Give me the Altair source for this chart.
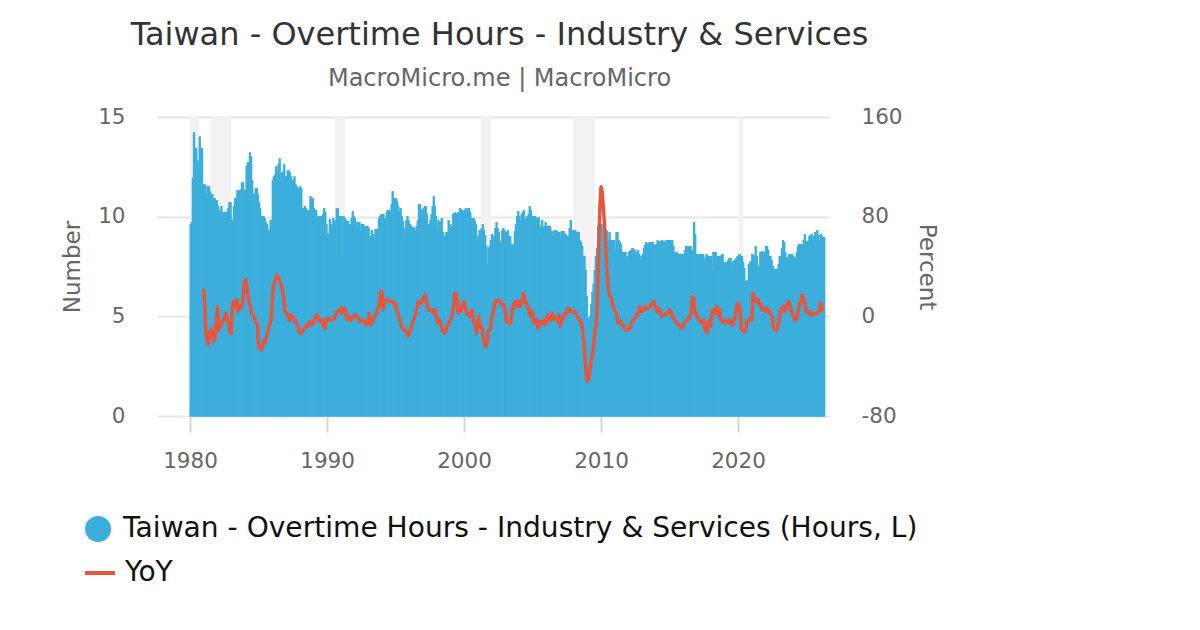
import altair as alt
import pandas as pd

BAR_NAME = "Taiwan - Overtime Hours - Industry & Services (Hours, L)"
LINE_NAME = "YoY"
BLUE = "#3caedb"
RED = "#e8553d"
FONT = "DejaVu Sans"

# Monthly overtime hours, January 1980 onwards (one row per year)
hours_1980s = [
    9.6, 9.7, 11.9, 14.2, 13.4, 13.4, 12.8, 12.7, 14.0, 13.4, 13.4, 11.6,
    11.6, 11.55, 11.1, 11.5, 11.5, 11.25, 11.1, 11.1, 10.9, 10.9, 10.8, 10.8,
    10.5, 10.3, 10.1, 10.5, 10.2, 10.2, 10.2, 10.2, 10.2, 10.4, 10.7, 10.7,
    9.8, 9.8, 10.5, 10.9, 10.9, 11.3, 11.3, 11.3, 11.3, 11.7, 11.7, 11.3,
    11.3, 12.5, 12.7, 12.7, 13.2, 13.0, 11.8, 11.1, 11.1, 11.4, 11.4, 11.1,
    10.7, 10.4, 10.0, 10.0, 10.0, 9.9, 9.7, 9.6, 9.3, 9.3, 9.8, 9.8,
    11.8, 12.0, 12.1, 12.5, 12.2, 12.6, 12.9, 11.8, 12.2, 12.2, 12.6, 12.0,
    12.0, 12.3, 12.3, 12.2, 12.0, 11.8, 11.8, 12.0, 11.6, 11.5, 11.4, 11.4,
    11.5, 11.4, 10.4, 10.4, 10.5, 10.4, 10.3, 10.3, 10.3, 11.0, 10.9, 10.9,
    10.4, 10.3, 10.3, 9.9, 10.0, 10.0, 10.0, 10.0, 10.1, 10.4, 10.2, 9.6,
]
hours_1990s = [
    9.1, 9.1, 9.85, 9.6, 9.3, 9.9, 9.8, 9.75, 10.4, 10.4, 10.0, 10.0,
    10.0, 8.0, 10.0, 9.9, 9.8, 9.75, 9.75, 9.6, 9.6, 9.9, 10.25, 10.0,
    9.9, 9.4, 9.7, 9.7, 9.7, 9.25, 9.6, 9.6, 9.5, 9.5, 9.5, 9.5,
    9.4, 9.0, 8.75, 9.3, 9.1, 8.9, 9.35, 9.35, 9.35, 9.9, 10.0, 10.1,
    10.1, 10.1, 9.9, 9.75, 10.25, 10.3, 10.3, 10.2, 10.6, 11.25, 10.9, 10.8,
    10.9, 10.75, 10.5, 10.25, 10.4, 10.0, 9.75, 9.0, 9.4, 9.8, 10.0, 9.8,
    9.6, 9.5, 9.45, 9.45, 9.4, 9.25, 9.5, 9.75, 10.6, 10.6, 10.3, 10.3,
    10.4, 10.5, 10.5, 10.1, 9.5, 9.6, 9.8, 10.1, 10.5, 11.0, 10.5, 10.0,
    9.3, 9.8, 9.75, 9.7, 9.9, 9.2, 8.6, 9.0, 9.2, 9.2, 9.8, 9.6,
    9.5, 9.5, 10.1, 10.15, 10.2, 10.1, 10.15, 10.2, 10.4, 10.35, 10.3, 10.25,
]
hours_2000s = [
    10.3, 10.4, 10.2, 10.4, 10.4, 10.2, 9.9, 9.9, 9.9, 9.75, 9.6, 8.8,
    9.0, 9.3, 9.3, 9.4, 9.6, 9.3, 9.0, 8.5, 7.6, 8.4, 8.5, 8.8,
    9.1, 8.8, 9.0, 9.4, 9.7, 9.4, 9.2, 8.7, 8.7, 9.3, 9.4, 9.3,
    9.2, 9.0, 9.3, 9.0, 9.0, 8.6, 8.6, 8.6, 9.25, 9.6, 10.0, 10.25,
    10.0, 9.75, 10.1, 10.2, 10.3, 9.8, 9.9, 10.0, 10.1, 10.5, 10.3, 10.0,
    10.0, 10.0, 10.0, 9.9, 9.9, 9.95, 9.1, 9.5, 9.8, 9.4, 9.5, 9.7,
    9.5, 9.5, 9.5, 9.5, 9.25, 9.25, 9.0, 9.3, 9.3, 9.25, 9.2, 9.2,
    9.0, 9.25, 9.25, 9.25, 9.1, 9.05, 9.0, 9.0, 9.4, 9.8, 9.3, 9.3,
    9.2, 9.3, 9.2, 9.2, 9.2, 8.8, 8.7, 8.5, 8.0, 8.0, 7.3, 6.0,
    4.9, 4.3, 5.0, 5.6, 6.2, 6.6, 7.3, 8.0, 8.4, 9.5, 9.8, 9.6,
]
hours_2010s = [
    9.6, 8.6, 9.3, 9.3, 9.3, 9.25, 8.8, 9.2, 8.8, 8.8, 8.8, 8.8,
    8.25, 9.2, 9.2, 8.8, 8.7, 8.6, 8.2, 8.2, 8.2, 8.2, 7.8, 8.0,
    8.2, 8.25, 8.3, 8.4, 8.35, 8.3, 8.1, 8.2, 8.3, 8.1, 7.8, 8.0,
    8.1, 8.4, 8.55, 8.7, 8.6, 8.65, 8.7, 8.7, 8.7, 8.7, 8.5, 8.55,
    8.6, 8.8, 8.75, 8.75, 8.6, 8.8, 8.75, 8.7, 8.75, 8.8, 8.8, 8.8,
    8.8, 8.8, 8.8, 8.5, 8.2, 8.1, 8.2, 8.1, 8.1, 8.1, 8.1, 8.1,
    8.1, 8.3, 8.5, 8.5, 8.5, 8.5, 8.5, 8.3, 8.3, 9.7, 9.1, 8.1,
    8.1, 8.1, 8.1, 8.1, 8.1, 8.1, 7.8, 7.95, 8.1, 8.0, 8.0, 7.95,
    8.0, 7.3, 8.2, 8.2, 8.2, 8.0, 8.0, 8.0, 8.0, 8.05, 8.1, 7.7,
    7.7, 7.7, 7.7, 7.8, 7.9, 7.9, 7.7, 7.5, 7.8, 7.8, 7.9, 8.0,
]
hours_2020s = [
    8.05, 8.1, 8.0, 8.0, 7.7, 7.4, 6.7, 6.75, 6.8, 7.6, 7.7, 7.75,
    8.1, 8.05, 8.0, 8.5, 8.0, 7.5, 7.5, 8.2, 8.2, 8.25, 8.0, 8.2,
    8.5, 8.5, 8.3, 8.0, 8.0, 7.8, 7.5, 7.35, 7.35, 7.35, 7.35, 7.6,
    8.0, 8.0, 8.4, 8.8, 8.7, 8.2, 7.9, 7.9, 8.1, 8.1, 8.1, 8.1,
    8.0, 7.9, 7.9, 8.2, 8.5, 8.6, 8.6, 8.6, 8.5, 8.8, 9.1, 8.75,
    8.75, 8.75, 9.0, 9.05, 9.1, 8.8, 9.0, 9.2, 8.8, 9.3, 9.05, 8.8,
    9.1, 9.0, 8.95, 8.95,
]

# Year-on-year change in percent, January 1981 onwards
yoy_1980s = [
    21.8, 5, -13.6, -19, -23, -14, -12, -10, -16, -20, -18, -3,
    7.8, -10.9, -8, -8, -5, -3, -3, 2.5, 0, -3, -5, -13.6,
    -13.6, 6.5, 11.9, 11.9, 7.8, 13.2, 3.8, 5, 7.8, 7.8, 10, 20,
    29, 29, 22, 16, 10.5, 8, 2, 1, 0, -2.9, -5.5, -6,
    -24, -25, -26, -27, -22, -19, -21, -16, -12, -9.6, -5, -3,
    13.2, 25.2, 26.6, 30, 33.3, 32, 30, 28, 25, 20, 15.9, 5,
    2.5, 2.5, 0, -3, -3, 1, 0, -3, -3, -5, -7, -9.6,
    -13.6, -13.6, -13, -11, -10, -9.6, -7, -7, -8, -4.2, -6, -6,
    -6, -2, -0.2, 1.2, 0, -3, -4.2, -3, -3, -8, -9.6, -5,
]
yoy_1990s = [
    -1.5, -1.5, -2, -3, -3, -3, -2, -0.2, 2, 3.8, 3.8, 5,
    6.5, 2.5, 6.5, 6.5, 5.2, -1, -3, 0, -1.5, -3, -1.5, 0,
    0, 1.2, 0, -1, -3, -4.2, -3.5, -3, -4.2, -5, -6.8, -6,
    -3, 2.5, -6.8, -6, -4.2, -1.5, 0, 1.2, 5.2, 7.8, 10, 19.9,
    19.9, 5, 10, 13, 13, 13, 13, 12, 12, 11.9, 11, 9.2,
    10.5, 5.2, 2.5, -1, -3, -8, -9, -10.9, -10.9, -11.5, -13.6, -16,
    -13, -10.9, -7, -5, -3, 0, 3, 7.8, 11.9, 11.9, 10.5, 11.9,
    13, 15.9, 17.2, 12, 7.8, 5.2, 5.2, 5.2, 5.2, 2.5, 2.5, 5.2,
    -1.5, -5.5, -5.5, -3, -8, -10.9, -12.3, -13.6, -12, -8, -8, -5,
    -3, 0, 3, 7.8, 18.6, 18.6, 14, 2.5, 3.8, 3.8, 7.8, 10,
]
yoy_2000s = [
    11.9, 7.8, 2.5, 2.5, 1.2, 0, 2.5, 5.2, -3, -5, -8, -13.6,
    -5, 0, -8, -8, -10.9, -18, -21.6, -24.3, -22, -12, -10.9, -10.9,
    -3, 1, 5.2, 10.5, 12, 13.2, 13.2, 12, 11.9, 9.2, 9.2, 9.2,
    5.2, -4.2, -4.2, -5.5, -5.5, -5.5, 5.2, 7.8, 10, 11.9, 7.8, 11.9,
    11.9, 7.8, 10, 11.9, 18.6, 15, 11.9, 9.2, 7.8, 4, 0, 3.8,
    3.8, -5.5, -3, -3, -3, -9.6, -7, -4.2, -5.5, -4, -3, -7,
    -3, 1.2, -3, -3, -3, 2.5, 0.5, -1.5, -3, -3, -3, 1.2,
    -8, -5, -3, 0, 1.2, 1.2, 3.8, 6.5, 6.5, 3.8, 3.8, 3.8,
    3.8, 3.8, 2.5, 0, -1.5, -3, -3, -6, -12, -22, -35, -46,
    -52, -51, -45, -38, -33, -28, -19, -10, -5, 20, 59, 88,
]
yoy_2010s = [
    104, 100, 88, 75, 58, 40, 25, 19, 16, 14, 10, 7,
    5, 3, 0, -5.5, -4, -4.2, -6.8, -7, -8, -9.6, -11, -11,
    -11, -10, -8, -4.2, -3, -3, -1.5, 1.2, 1.2, 3.8, 7.8, 3.8,
    3.8, 5.2, 5.2, 7.8, 6.5, 6.5, 6.5, 7.8, 10.5, 10.5, 11.9, 9,
    7.8, 3.8, 6.5, 6.5, 2.5, 0, 0.5, 1.2, 1.2, 2.5, 2.5, 2.5,
    5.2, 4, 2.5, -1.5, -2, -3, -5.5, -6, -7, -8, -9, -9.6,
    -7, -5.5, -4.2, -3, -3, -1.5, 0, 2, 15.9, 14.5, 5.2, 2.5,
    0, -1.5, -3, -3, -5.5, -4, -3, -11, -12, -13, -4, -6,
    -8, 3.8, 5.2, 2.5, 2.5, 7.8, 4, 1, 5.2, -3, -3, -5.5,
    -4, -3, -4.2, -4.2, -5.5, -3, -5, -7, -3, -3, 2.5, 9.2,
]
yoy_2020s = [
    10.5, 8, 2.5, -9.6, -11, -12.3, -12.3, -9, -3, -4.2, -3, -1.5,
    -3, 18.6, 16, 14.5, 11.9, 12.5, 13.2, 9.2, 9.2, 5.2, 6.5, 5,
    3.8, 6.5, 5.2, 5.2, 2.5, 1, 0, -9.6, -10, -11, -11, -7,
    -3, 2.5, 6.5, 6.5, 7.8, 3.8, 6.5, 9.2, 11.9, 10, 7.8, 3.8,
    0, 0, -3, -3, 1.2, 6.5, 9, 11.9, 17.2, 15, 13.2, 7.8,
    3.8, 3.8, 2.5, 3.8, 1.2, 1.2, 2.5, 2.5, 2.5, 2.5, 2.5, 3.8,
    10.5, 8, 5.2, 5.2,
]

# Shaded recession periods
recession_start = ["1980-01-01", "1981-07-13", "1990-08-01", "2001-03-28", "2007-12-24", "2020-01-26"]
recession_end = ["1980-08-28", "1983-01-01", "1991-04-22", "2001-12-20", "2009-07-22", "2020-05-22"]

tick_years = [1980, 1990, 2000, 2010, 2020]

hours = hours_1980s + hours_1990s + hours_2000s + hours_2010s + hours_2020s
yoy = yoy_1980s + yoy_1990s + yoy_2000s + yoy_2010s + yoy_2020s

months = pd.date_range("1980-01-01", periods=len(hours), freq="MS")
bars_df = pd.DataFrame({
    "start": months.strftime("%Y-%m-%d"),
    "end": (months + pd.offsets.MonthBegin(1)).strftime("%Y-%m-%d"),
    "hours": hours,
    "series": BAR_NAME,
})
yoy_months = pd.date_range("1981-01-01", periods=len(yoy), freq="MS")
yoy_df = pd.DataFrame({
    "date": yoy_months.strftime("%Y-%m-%d"),
    "yoy": yoy,
    "series": LINE_NAME,
})
rec_df = pd.DataFrame({"start": recession_start, "end": recession_end})

x_scale = alt.Scale(
    type="utc",
    domain=[
        alt.DateTime(year=1977, month=8, date=3, utc=True),
        alt.DateTime(year=2026, month=9, date=18, utc=True),
    ],
)
x_axis = alt.Axis(
    title=None,
    values=[alt.DateTime(year=y, month=1, date=1, utc=True) for y in tick_years],
    format="%Y",
    grid=False,
    domain=False,
    ticks=True,
    tickSize=16,
    tickWidth=2,
    tickColor="#d6d6d6",
    labelPadding=18,
    labelFontSize=21.5,
    labelColor="#666666",
    labelFont=FONT,
)
left_axis = alt.Axis(
    title="Number",
    values=[0, 5, 10, 15],
    grid=True,
    gridColor="#e6e6e6",
    gridWidth=2,
    ticks=False,
    tickSize=0,
    domain=False,
    labelPadding=32,
    labelFontSize=21.5,
    labelColor="#666666",
    labelFont=FONT,
    titleFont=FONT,
    titleFontSize=23,
    titleFontWeight="normal",
    titleColor="#666666",
    titlePadding=13,
)
right_axis = alt.Axis(
    title="Percent",
    orient="right",
    values=[-80, 0, 80, 160],
    labelExpr="'' + datum.value",
    grid=False,
    ticks=False,
    tickSize=0,
    domain=False,
    labelPadding=31,
    labelFontSize=21.5,
    labelColor="#666666",
    labelFont=FONT,
    titleFont=FONT,
    titleFontSize=23,
    titleFontWeight="normal",
    titleColor="#666666",
    titlePadding=12,
)

bands = alt.Chart(rec_df).mark_rect(color="#f2f2f2").encode(
    x=alt.X("start:T", scale=x_scale, axis=x_axis),
    x2="end:T",
)

# Monthly columns; a thin outline in the fill colour closes the seams between them
bars = alt.Chart(bars_df).mark_bar(stroke=BLUE, strokeWidth=1.2).encode(
    x=alt.X("start:T", scale=x_scale, axis=x_axis),
    x2="end:T",
    y=alt.Y("hours:Q", scale=alt.Scale(domain=[0, 15], nice=False), axis=left_axis),
    y2=alt.datum(0),
    color=alt.Color(
        "series:N",
        scale=alt.Scale(domain=[BAR_NAME], range=[BLUE]),
        legend=alt.Legend(
            title=None, orient="none", legendX=-73, legendY=398, padding=0,
            symbolType="circle", symbolSize=676, symbolStrokeWidth=0,
            labelFont=FONT, labelFontSize=28.1, labelColor="#111111",
            labelOffset=11, labelLimit=1200,
        ),
    ),
)

line = alt.Chart(yoy_df).mark_line(strokeWidth=3.5, strokeJoin="round").encode(
    x=alt.X("date:T", scale=x_scale, axis=x_axis),
    y=alt.Y("yoy:Q", scale=alt.Scale(domain=[-80, 160], nice=False, zero=False), axis=right_axis),
    stroke=alt.Stroke(
        "series:N",
        scale=alt.Scale(domain=[LINE_NAME], range=[RED]),
        legend=alt.Legend(
            title=None, orient="none", legendX=-74, legendY=439, padding=0,
            symbolType="stroke", symbolSize=900, symbolStrokeWidth=4,
            labelFont=FONT, labelFontSize=28.1, labelColor="#111111",
            labelOffset=8, labelLimit=1200,
        ),
    ),
)

chart = (
    alt.layer(bands, bars, line)
    .resolve_scale(y="independent")
    .properties(
        width=673,
        height=299,
        padding={"left": 157, "top": 117, "right": 370, "bottom": 214},
        autosize=alt.AutoSizeParams(type="none"),
        background="white",
        title=alt.TitleParams(
            text="Taiwan - Overtime Hours - Industry & Services",
            subtitle="MacroMicro.me | MacroMicro",
            anchor="middle",
            frame="group",
            offset=14,
            dx=6,
            font=FONT,
            fontSize=32,
            fontWeight="normal",
            color="#333333",
            subtitleFont=FONT,
            subtitleFontSize=24,
            subtitleColor="#666666",
            subtitlePadding=15,
        ),
    )
    .configure_view(stroke="transparent")
)

chart.save("out.html", embed_options={"renderer": "svg", "actions": False})
